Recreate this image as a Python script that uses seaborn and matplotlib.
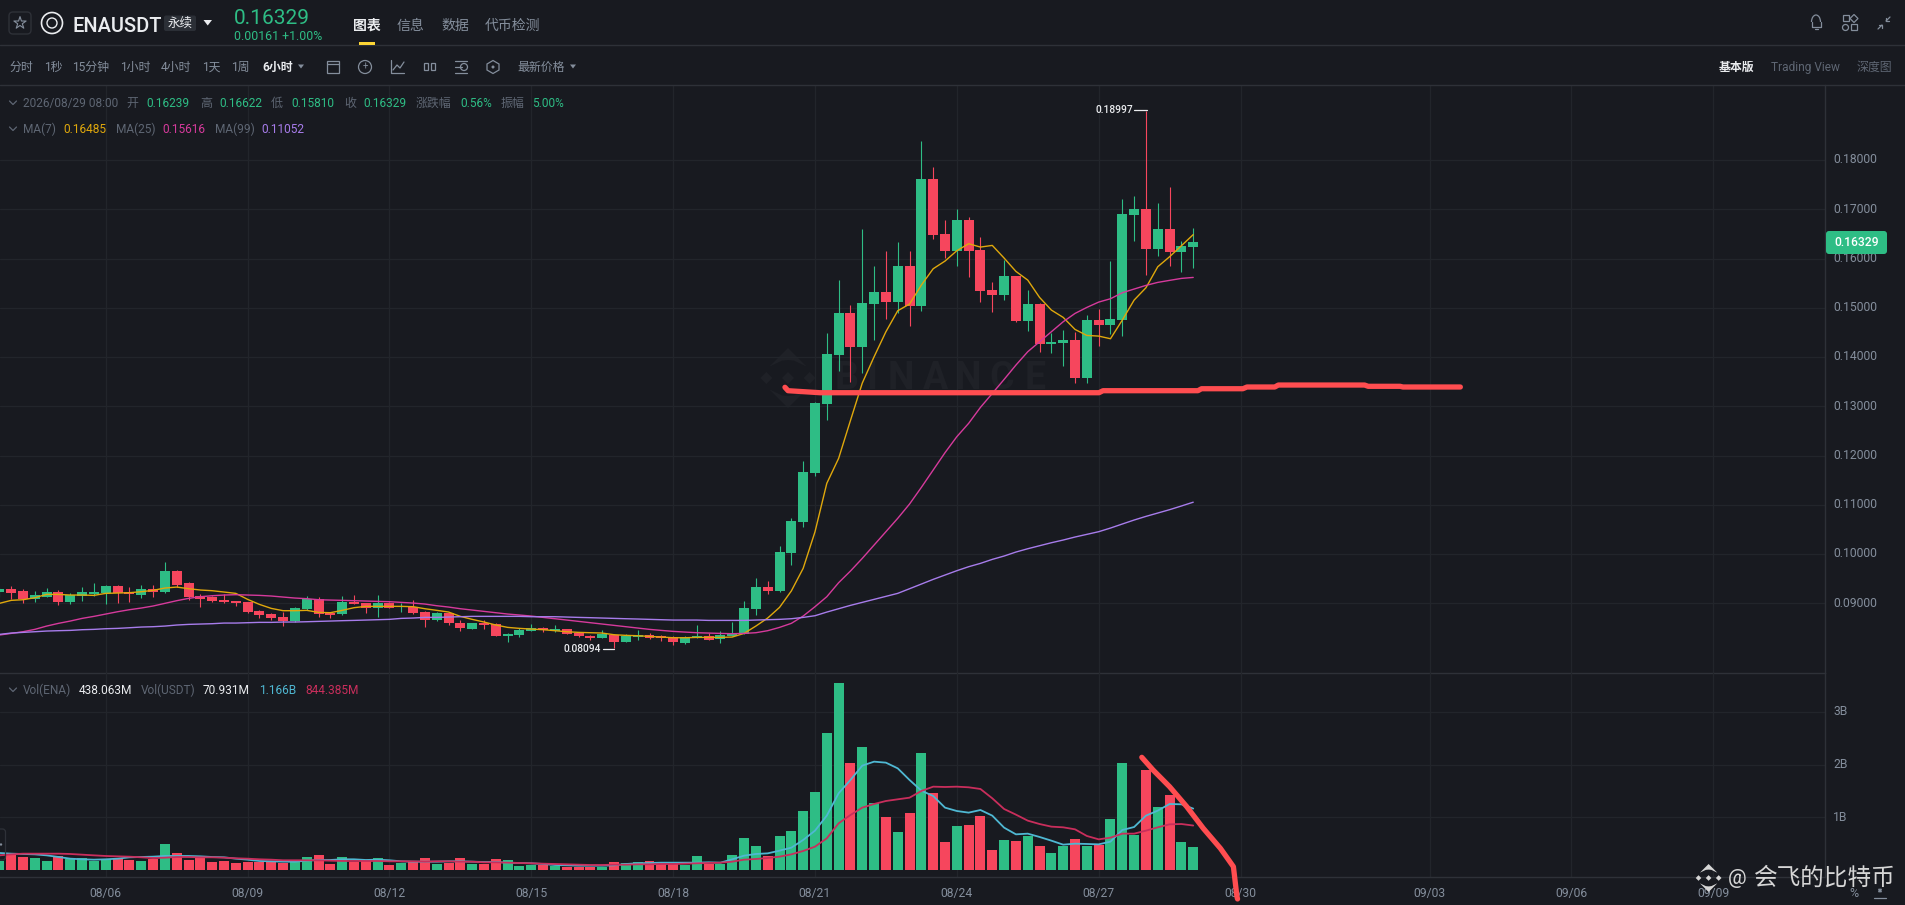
import numpy as np
import pandas as pd
import matplotlib
matplotlib.use("Agg")
import matplotlib.pyplot as plt
from matplotlib.patches import Circle, FancyBboxPatch, Polygon, Rectangle, Arc
from matplotlib.transforms import ScaledTranslation
import seaborn as sns

open_ = [.09228,.09289,.09241,.09086,.09133,.09235,.09025,.09153,.09187,.09201,.09350,.09235,.09174,.09282,.09221,.09654,.09404,.09147,.09120,.09072,
         .09045,.09025,.08842,.08788,.08713,.08632,.08883,.09093,.08808,.08774,.09025,.09004,.08903,.09004,.08916,.08930,.08828,.08659,.08795,.08605,
         .08483,.08592,.08578,.08334,.08355,.08443,.08497,.08443,.08470,.08388,.08341,.08294,.08355,.08212,.08314,.08355,.08341,.08314,.08199,.08307,
         .08341,.08267,.08341,.08382,.08889,.09336,.09241,.10019,.10649,.11651,.13050,.14046,.14885,.14208,.15075,.15318,.15115,.15847,.15034,.17614,
         .16496,.16158,.16781,.16178,.15359,.15258,.15643,.14729,.15075,.14256,.14276,.14350,.13565,.14743,.14648,.14750,.16882,.17011,.16185,.16591,
         .16138,.16239]
high = [.09336,.09343,.09282,.09248,.09309,.09269,.09201,.09336,.09411,.09377,.09363,.09323,.09370,.09363,.09830,.09668,.09438,.09180,.09147,.09180,
        .09050,.09032,.08856,.08801,.08822,.08923,.09140,.09120,.08828,.09140,.09167,.09011,.09160,.09018,.09004,.09059,.08842,.08822,.08815,.08659,
        .08605,.08659,.08592,.08388,.08490,.08571,.08510,.08558,.08483,.08402,.08355,.08456,.08368,.08382,.08456,.08388,.08361,.08327,.08341,.08558,
        .08388,.08436,.08619,.09045,.09512,.09445,.10162,.10730,.11888,.13090,.14479,.15562,.15048,.16591,.15847,.16151,.16327,.16151,.18385,.17850,
        .16781,.17004,.16848,.16436,.15522,.15968,.15650,.15352,.15088,.14479,.14547,.14513,.14851,.14973,.15941,.17207,.17261,.18997,.17126,.17444,
        .16361,.16622]
low = [.09133,.09086,.09011,.09032,.09120,.08957,.08984,.09052,.09153,.08977,.09004,.09032,.09113,.09133,.09215,.09336,.09065,.08923,.09032,.08998,
       .08950,.08795,.08707,.08659,.08537,.08612,.08869,.08720,.08693,.08770,.08977,.08808,.08720,.08896,.08828,.08788,.08510,.08646,.08558,.08436,
       .08470,.08483,.08334,.08219,.08314,.08436,.08422,.08422,.08368,.08321,.08246,.08287,.08094,.08206,.08260,.08267,.08240,.08145,.08179,.08287,
       .08246,.08199,.08334,.08375,.08761,.09187,.09235,.09776,.10554,.11590,.12718,.13721,.13497,.13680,.14344,.14770,.14885,.14635,.14939,.16402,
       .16002,.15847,.15630,.15115,.14912,.15149,.14716,.14533,.14093,.14073,.13822,.13477,.13470,.14229,.14465,.14418,.16348,.15664,.16050,.15853,
       .15718,.15810]
close = [.09289,.09214,.09079,.09160,.09228,.09025,.09167,.09228,.09228,.09350,.09201,.09187,.09282,.09221,.09648,.09377,.09120,.09093,.09045,.09025,
         .09004,.08815,.08761,.08693,.08632,.08910,.09093,.08788,.08761,.09025,.08991,.08910,.09004,.08910,.08944,.08808,.08659,.08795,.08592,.08490,
         .08592,.08558,.08341,.08375,.08463,.08490,.08456,.08483,.08375,.08327,.08294,.08368,.08212,.08341,.08355,.08294,.08300,.08206,.08321,.08341,
         .08260,.08355,.08382,.08903,.09329,.09241,.10040,.10669,.11671,.13073,.14059,.14885,.14208,.15088,.15318,.15115,.15847,.15034,.17614,.16476,
         .16158,.16781,.16158,.15339,.15258,.15643,.14729,.15075,.14262,.14296,.14350,.13565,.14743,.14648,.14770,.16896,.17011,.16185,.16591,.16138,
         .16246,.16329]
volume = [.171,.285,.247,.234,.171,.272,.203,.222,.177,.209,.209,.190,.177,.209,.500,.316,.196,.222,.158,.171,
          .127,.158,.158,.152,.139,.152,.241,.278,.120,.241,.158,.165,.222,.095,.127,.165,.228,.114,.139,.234,
          .120,.108,.203,.196,.082,.101,.101,.082,.063,.063,.063,.063,.152,.133,.152,.171,.108,.108,.095,.272,
          .114,.114,.278,.608,.456,.266,.639,.741,1.120,1.481,2.601,3.557,2.038,2.329,1.272,1.006,.715,1.076,2.228,1.462,
          .538,.835,.848,1.019,.380,.563,.551,.652,.456,.329,.449,.595,.462,.475,.968,2.038,.671,1.899,1.196,1.424,
          .525,.438]
ma7 = [.08998,.09059,.09072,.09113,.09180,.09180,.09167,.09167,.09160,.09201,.09208,.09214,.09235,.09262,.09309,.09329,.09296,.09269,.09255,.09228,
       .09201,.09079,.08977,.08896,.08849,.08849,.08856,.08815,.08808,.08856,.08910,.08937,.08937,.08937,.08937,.08930,.08889,.08856,.08822,.08734,
       .08673,.08619,.08558,.08510,.08490,.08476,.08463,.08443,.08422,.08409,.08402,.08395,.08361,.08348,.08341,.08327,.08314,.08300,.08300,.08307,
       .08307,.08307,.08314,.08388,.08537,.08700,.08916,.09250,.09709,.10450,.11435,.11942,.12710,.13470,.14005,.14513,.14939,.15075,.15461,.15792,
       .15948,.16158,.16300,.16232,.16266,.16009,.15738,.15562,.15210,.14953,.14804,.14560,.14438,.14425,.14371,.14750,.15156,.15406,.15833,.16036,
       .16259,.16485]
ma25 = [.08355,.08388,.08422,.08470,.08537,.08592,.08639,.08693,.08734,.08781,.08828,.08869,.08903,.08944,.08998,.09052,.09099,.09133,.09153,.09167,
        .09174,.09167,.09160,.09147,.09126,.09106,.09093,.09072,.09065,.09059,.09052,.09045,.09038,.09032,.09018,.09004,.08984,.08950,.08923,.08889,
        .08862,.08835,.08808,.08781,.08761,.08740,.08713,.08686,.08659,.08632,.08605,.08578,.08551,.08524,.08497,.08470,.08449,.08429,.08415,.08402,
        .08395,.08388,.08382,.08388,.08402,.08443,.08510,.08592,.08740,.08930,.09133,.09417,.09654,.09911,.10182,.10453,.10724,.11015,.11353,.11705,
        .12057,.12382,.12653,.12978,.13260,.13545,.13836,.14107,.14310,.14513,.14716,.14885,.15007,.15115,.15183,.15305,.15380,.15454,.15515,.15556,
        .15596,.15616]
ma99 = [.08368,.08395,.08409,.08422,.08436,.08443,.08449,.08463,.08470,.08483,.08490,.08503,.08517,.08524,.08537,.08558,.08571,.08578,.08585,.08598,
        .08598,.08605,.08612,.08612,.08619,.08619,.08625,.08632,.08639,.08646,.08652,.08659,.08666,.08673,.08693,.08700,.08713,.08713,.08720,.08727,
        .08734,.08734,.08734,.08734,.08734,.08727,.08727,.08727,.08720,.08713,.08707,.08700,.08693,.08686,.08680,.08673,.08666,.08659,.08659,.08659,
        .08652,.08652,.08652,.08652,.08659,.08666,.08673,.08686,.08713,.08747,.08821,.08889,.08957,.09018,.09079,.09140,.09201,.09295,.09390,.09485,
        .09573,.09661,.09742,.09810,.09891,.09959,.10040,.10107,.10168,.10229,.10284,.10345,.10399,.10453,.10527,.10609,.10690,.10764,.10832,.10900,
        .10975,.11052]
vol_ma5 = [.323,.310,.304,.297,.278,.247,.215,.203,.196,.203,.215,.241,.247,.253,.266,.266,.266,.259,.247,.241,
           .215,.196,.171,.165,.158,.158,.177,.190,.190,.203,.203,.190,.196,.184,.165,.158,.158,.158,.165,.165,
           .158,.152,.152,.139,.133,.127,.114,.095,.089,.082,.082,.082,.089,.114,.127,.133,.139,.139,.139,.139,.146,
           .139,.203,.272,.304,.316,.367,.424,.570,.747,1.032,1.456,1.709,1.981,2.057,2.038,1.930,1.709,1.506,1.405,1.184,
           1.120,1.089,1.139,1.032,.804,.677,.690,.627,.557,.481,.500,.494,.487,.538,.759,.816,1.032,1.127,1.253,1.247,1.166]
vol_ma10 = [.278,.297,.310,.310,.310,.310,.304,.291,.278,.266,.259,.253,.241,.228,.234,.247,.247,.241,.241,.234,
            .222,.215,.203,.196,.184,.184,.184,.184,.177,.171,.171,.171,.171,.165,.165,.165,.158,.165,.165,.158,
            .158,.146,.146,.139,.133,.127,.120,.114,.108,.101,.095,.095,.101,.101,.108,.108,.114,.114,.120,.127,.133,
            .139,.158,.196,.209,.228,.253,.297,.361,.443,.601,.886,1.044,1.184,1.253,1.310,1.342,1.373,1.500,1.582,1.576,
            1.582,1.570,1.538,1.361,1.158,1.051,.937,.873,.823,.810,.772,.646,.582,.614,.690,.690,.747,.810,.867,.873,.844]
price_ticks = [.09,.10,.11,.12,.13,.14,.15,.16,.17,.18]
vol_ticks = [1, 2, 3]
date_pos = [9, 21, 33, 45, 57, 69, 81, 93, 105, 121, 133, 145]
date_labels = ["08/06","08/09","08/12","08/15","08/18","08/21","08/24","08/27","08/30","09/03","09/06","09/09"]
stroke1_x = [66.46,66.72,69.42,93.03,93.37,101.4,101.7,105.2,105.55,107.9,108.2,109.4,115.5,115.8,118.5,118.75,123.6]
stroke1_y = [.13385,.13316,.13275,.13275,.13316,.13316,.13356,.13356,.13391,.13391,.13431,.13431,.13431,.13405,.13405,.13391,.13391]
stroke2_x = [96.65,97.6,99.0,100.45,101.85,103.3,104.4,104.7,104.75]
stroke2_y = [2.139,1.899,1.582,1.203,.791,.411,.063,-.506,-.55]

BG = "#181A20"; GRID = "#22252B"; LINE = "#2E3138"
GREEN = "#2EBD85"; RED = "#F6465D"; DIM = "#848E9C"; DIM2 = "#5E6673"; WHITE = "#EAECEF"
HAND = "#FF4D50"
W, H = 1905, 905

sns.set_theme(style="dark", rc={"axes.facecolor": BG, "figure.facecolor": BG, "axes.edgecolor": LINE,
                                "xtick.color": DIM, "ytick.color": DIM, "grid.color": GRID})
plt.rcParams["font.family"] = ["Roboto", "Noto Sans CJK SC", "DejaVu Sans"]
fig = plt.figure(figsize=(W / 100, H / 100), dpi=100, facecolor=BG)

def place(x0, y0, x1, y1, **kw):
    return fig.add_axes([x0 / W, 1 - y1 / H, (x1 - x0) / W, (y1 - y0) / H], **kw)

under = place(0, 0, W, H, zorder=0); under.set_xlim(0, W); under.set_ylim(H, 0); under.axis("off")
ax = place(0, 85, 1825, 673, zorder=1, facecolor="none")
axv = place(0, 673, 1825, 877, zorder=1, facecolor="none")
over = place(0, 0, W, H, zorder=5, facecolor="none"); over.set_xlim(0, W); over.set_ylim(H, 0); over.axis("off")

k = np.arange(len(close))
df = pd.DataFrame(dict(k=k, open=open_, high=high, low=low, close=close, volume=volume, ma7=ma7, ma25=ma25,
                       ma99=ma99, v5=vol_ma5, v10=vol_ma10))
df["side"] = np.where(df.close >= df.open, "up", "down")
pal = {"up": GREEN, "down": RED}
colors = df.side.map(pal).values

# price pane
ax.vlines(df.k, df.low, df.high, colors=colors, lw=0.8, zorder=3)
tops = df[["open", "close"]].max(axis=1); bots = df[["open", "close"]].min(axis=1)
ax.bar(df.k, (tops - bots).clip(lower=0.00012), bottom=bots, width=0.846, color=colors, lw=0, zorder=4)
for col, c in (("ma7", "#E0A80C"), ("ma25", "#D63A9C"), ("ma99", "#A77CEB")):
    sns.lineplot(data=df, x="k", y=col, ax=ax, color=c, lw=1.0, errorbar=None, estimator=None, sort=False, zorder=5)
ax.plot(stroke1_x, stroke1_y, color=HAND, lw=3.8, solid_capstyle="round", solid_joinstyle="round", zorder=6)
ax.set_ylim(.07584, .19523)
ax.set_yticks(price_ticks); ax.set_yticklabels([f"{v:.5f}" for v in price_ticks])

# volume pane
sns.barplot(data=df, x="k", y="volume", hue="side", palette=pal, native_scale=True, dodge=False, width=0.846,
            saturation=1, errorbar=None, legend=False, ax=axv, lw=0, zorder=3)
sns.lineplot(data=df, x="k", y="v5", ax=axv, color="#4FB8D3", lw=1.3, errorbar=None, estimator=None, sort=False, zorder=5)
sns.lineplot(data=df, x="k", y="v10", ax=axv, color="#C92E5C", lw=1.3, errorbar=None, estimator=None, sort=False, zorder=6)
axv.plot(stroke2_x, stroke2_y, color=HAND, lw=3.8, solid_capstyle="round", zorder=7, clip_on=False)
axv.set_ylim(-.133, 3.74)
axv.set_yticks(vol_ticks); axv.set_yticklabels(["1B", "2B", "3B"])

for a in (ax, axv):
    a.set_xlim(.0508, 154.45)
    a.set_xlabel(""); a.set_ylabel("")
    a.set_xticks(date_pos)
    a.yaxis.tick_right()
    a.grid(True, color=GRID, lw=0.9, zorder=0)
    a.set_axisbelow(True)
    for s in ("top", "left"):
        a.spines[s].set_visible(False)
    a.spines["right"].set_color(LINE); a.spines["right"].set_linewidth(1)
    a.spines["bottom"].set_color(LINE); a.spines["bottom"].set_linewidth(1)
    a.tick_params(axis="both", length=0, labelsize=8.7, colors=DIM)
    a.tick_params(axis="y", pad=5.8)
    lift = ScaledTranslation(0, 1.2 / 72, fig.dpi_scale_trans)
    for lab in a.get_yticklabels():
        lab.set_transform(lab.get_transform() + lift)
ax.set_xticklabels([])
axv.set_xticklabels(date_labels)
axv.tick_params(axis="x", pad=7.5)

def T(x, y, s, color=DIM, size=8.7, ha="left", weight="normal", **kw):
    return over.text(x, y, s, color=color, fontsize=size, ha=ha, va="center", fontweight=weight, **kw)

def bnb(target, cx, cy, r, color, z=2):
    q = r * 0.2
    for dx, dy in ((0, 0), (-r * .72, 0), (r * .72, 0)):
        target.add_patch(Polygon([(cx + dx - q, cy + dy), (cx + dx, cy + dy - q), (cx + dx + q, cy + dy), (cx + dx, cy + dy + q)],
                                 closed=True, color=color, lw=0, zorder=z))
    for sign in (-1, 1):
        a, b = r * 0.20, r * 0.62
        target.add_patch(Polygon([(cx - b, cy + sign * (r - b)), (cx, cy + sign * r), (cx + b, cy + sign * (r - b)),
                                  (cx + a, cy + sign * (r - b + a)), (cx, cy + sign * (r - 2 * a)),
                                  (cx - a, cy + sign * (r - b + a))], closed=True, color=color, lw=0, zorder=z))

# faint BINANCE mark behind the chart
bnb(under, 788, 378, 30, "#1F2127")
for ch, lx in zip("BINANCE", (847, 872, 901, 935, 968, 1002, 1035)):
    under.text(lx, 378, ch, color="#1F2127", fontsize=27, fontweight="bold", ha="center", va="center")

# header separators
for yy in (45, 85):
    over.plot([0, W], [yy, yy], color=LINE, lw=1)
over.add_patch(Rectangle((359, 42), 16, 3, color="#FCD535", lw=0, zorder=3))

# favourite + coin
over.add_patch(FancyBboxPatch((9, 12), 22, 22, boxstyle="round,pad=0,rounding_size=4", fc="none", ec=LINE, lw=1))
over.scatter([20], [23], marker="*", s=85, fc="none", ec=DIM, lw=0.8)
over.add_patch(Circle((52, 23), 10.5, fc="none", ec=WHITE, lw=1.2))
over.add_patch(Circle((52, 23), 5, fc="none", ec=WHITE, lw=1))
T(72, 26, "ENAUSDT", WHITE, 14.4, weight="medium")
over.add_patch(FancyBboxPatch((164, 15.5), 32, 15.5, boxstyle="round,pad=0,rounding_size=2", fc="#2B2F36", ec="none"))
T(180, 23.5, "永续", WHITE, 9, ha="center")
over.add_patch(Polygon([(203.5, 20), (212, 20), (207.7, 25.5)], closed=True, color=WHITE, lw=0))
T(234, 18, "0.16329", GREEN, 15)
T(234, 36, "0.00161 +1.00%", GREEN, 8.9)
T(353.5, 26, "图表", WHITE, 10, weight="bold")
T(397, 26, "信息", DIM, 10)
T(441, 26, "数据", DIM, 10)
T(485, 26, "代币检测", DIM, 10)

# toolbar row
for xx, s in ((10, "分时"), (44, "1秒"), (72, "15分钟"), (120.5, "1小时"), (161, "4小时"), (202, "1天"), (231, "1周")):
    T(xx, 67, s, DIM, 8.6)
T(262, 67, "6小时", WHITE, 8.6, weight="bold")
over.add_patch(Polygon([(298, 64.5), (304, 64.5), (301, 68.5)], closed=True, color=DIM, lw=0))
T(517, 67, "最新价格", DIM, 8.6)
over.add_patch(Polygon([(570, 64.5), (576, 64.5), (573, 68.5)], closed=True, color=DIM, lw=0))
over.add_patch(Rectangle((327, 61), 12, 12, fc="none", ec=DIM, lw=0.9))
over.plot([327, 339], [64.5, 64.5], color=DIM, lw=0.9)
over.add_patch(Circle((365, 67), 6.5, fc="none", ec=DIM, lw=0.9))
T(365, 67, "+", DIM, 7, ha="center")
over.plot([391, 391, 404], [60, 73, 73], color=DIM, lw=0.9)
over.plot([393, 397, 400, 404], [70, 65, 68, 62], color=DIM, lw=0.9)
over.add_patch(Rectangle((424, 63), 3.5, 7, fc="none", ec=DIM, lw=0.9))
over.add_patch(Rectangle((431, 63), 3.5, 7, fc="none", ec=DIM, lw=0.9))
over.plot([455, 467], [61, 61], color=DIM, lw=0.9); over.plot([455, 462], [67, 67], color=DIM, lw=0.9)
over.plot([455, 467], [73, 73], color=DIM, lw=0.9)
over.add_patch(Circle((464, 67), 3.5, fc="none", ec=DIM, lw=0.9))
over.add_patch(Polygon([(493, 60.5), (499, 64), (499, 70), (493, 73.5), (487, 70), (487, 64)], closed=True, fc="none", ec=DIM, lw=0.9))
over.add_patch(Circle((493, 67), 1.5, color=DIM, lw=0))
T(1718.5, 67, "基本版", WHITE, 8.6, weight="bold")
T(1771, 67, "Trading View", DIM2, 8.6)
T(1856.6, 67, "深度图", DIM2, 8.6)

# top-right icons
over.add_patch(Arc((1816, 22), 9, 14, theta1=180, theta2=360, ec=DIM, lw=0.9))
over.plot([1811.5, 1811.5, 1820.5, 1820.5], [22, 27, 27, 22], color=DIM, lw=0.9)
over.plot([1814.5, 1817.5], [29, 29], color=DIM, lw=0.9)
over.add_patch(Rectangle((1842.5, 15.5), 6, 6, fc="none", ec=DIM, lw=0.9))
over.add_patch(Polygon([(1854, 14.5), (1858, 18.5), (1854, 22.5), (1850, 18.5)], closed=True, fc="none", ec=DIM, lw=0.9))
over.add_patch(Circle((1845.5, 27.5), 3, fc="none", ec=DIM, lw=0.9))
over.add_patch(Rectangle((1851, 24.5), 6, 6, fc="none", ec=DIM, lw=0.9))
over.plot([1878, 1882], [29, 25], color=DIM, lw=0.9); over.plot([1886, 1890], [21, 17], color=DIM, lw=0.9)
over.plot([1879, 1882, 1882], [25, 25, 28], color=DIM, lw=0.9); over.plot([1886, 1886, 1889], [18, 21, 21], color=DIM, lw=0.9)

# info rows
def chevron(y):
    over.plot([9.5, 13, 16.5], [y - 2, y + 1.5, y - 2], color=DIM2, lw=0.9)

chevron(103); chevron(129); chevron(690)
for xx, s, c in ((23, "2026/08/29 08:00", DIM2), (126, "开", DIM2), (146, "0.16239", GREEN), (200, "高", DIM2), (219, "0.16622", GREEN),
                 (271, "低", DIM2), (291, "0.15810", GREEN), (344, "收", DIM2), (363, "0.16329", GREEN), (416, "涨跌幅", DIM2),
                 (460, "0.56%", GREEN), (501, "振幅", DIM2), (532.5, "5.00%", GREEN)):
    T(xx, 103.5, s, c, 8.6)
for xx, s, c in ((23, "MA(7)", DIM2), (63, "0.16485", "#E0A80C"), (116, "MA(25)", DIM2), (162, "0.15616", "#D63A9C"),
                 (215, "MA(99)", DIM2), (261, "0.11052", "#A77CEB")):
    T(xx, 129.5, s, c, 8.6)
for xx, s, c in ((23, "Vol(ENA)", DIM2), (78.5, "438.063M", WHITE), (140.5, "Vol(USDT)", DIM2), (203, "70.931M", WHITE),
                 (259, "1.166B", "#4FB8D3"), (305, "844.385M", "#C92E5C")):
    T(xx, 690, s, c, 8.6)

# extreme labels
T(1095, 110, "0.18997", WHITE, 7.4, weight="medium")
over.plot([1134, 1146.5], [110, 110], color=WHITE, lw=0.9)
T(563, 649, "0.08094", WHITE, 7.4, weight="medium")
over.plot([603, 614], [649, 649], color=WHITE, lw=0.9)

# last price tag
over.add_patch(FancyBboxPatch((1826, 231), 61, 23, boxstyle="round,pad=0,rounding_size=3", fc=GREEN, ec="none"))
T(1856.5, 242.5, "0.16329", "white", 8.7, ha="center", weight="medium")

# small handle in volume pane
over.add_patch(FancyBboxPatch((-6, 829), 11.5, 31, boxstyle="round,pad=0,rounding_size=3", fc="none", ec=LINE, lw=0.9))
over.add_patch(Circle((1, 844.5), 1.2, color=DIM, lw=0))

# bottom-right controls + watermark
T(1854, 893, "%", DIM, 9, ha="center")
over.plot([1874, 1886], [898, 898], color=DIM, lw=0.9)
over.annotate("", xy=(1880, 885), xytext=(1880, 896), arrowprops=dict(arrowstyle="<->", color=DIM, lw=0.8, mutation_scale=5))
bnb(over, 1708.6, 878, 14, "#D6D6D6", z=6)
T(1728, 878, "@", "#D6D6D6", 15)
T(1754, 878, "会飞的比特币", "#D6D6D6", 17)

fig.savefig("out.png", dpi=100, facecolor=BG)
